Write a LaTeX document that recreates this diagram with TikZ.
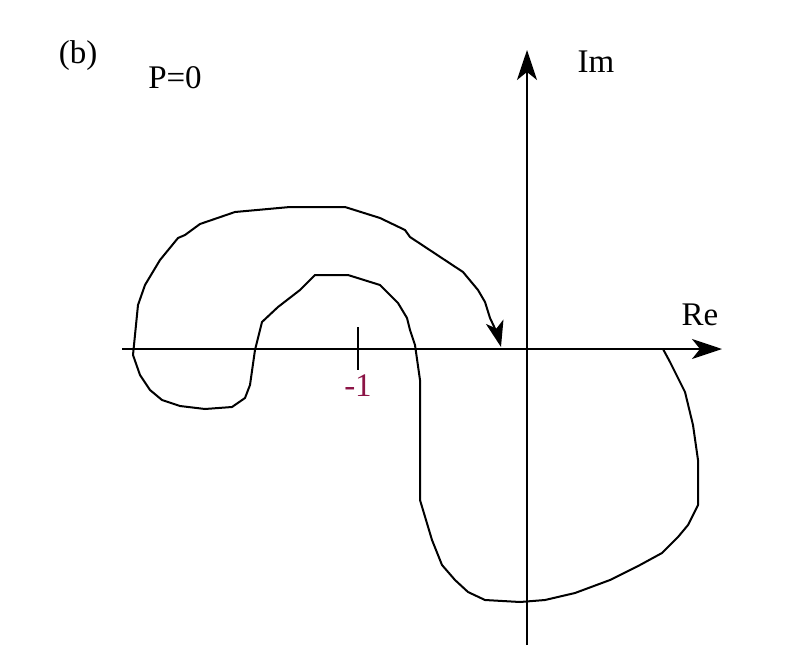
\documentclass[tikz,border=0pt]{standalone}
\usepackage{fontspec}
\setmainfont{Liberation Serif}
\usetikzlibrary{arrows.meta}
\definecolor{tickred}{RGB}{140,20,70}
\tikzset{axis/.style={line width=2pt,-{Stealth[length=30pt,width=20pt,inset=8pt]}},
curve/.style={line width=2pt,line join=round},
lbl/.style={font=\fontsize{33}{36}\selectfont,inner sep=0pt}}
\begin{document}
\begin{tikzpicture}[x=1pt,y=-1pt]
\useasboundingbox (0,0) rectangle (798,656);
\coordinate (xs) at (122,349); \coordinate (xe) at (722,349);
\coordinate (ys) at (527,645); \coordinate (ye) at (527,50);
\draw[axis] (xs) -- (xe);
\draw[axis] (ys) -- (ye);
\coordinate (t1) at (358,327); \coordinate (t2) at (358,370);
\draw[line width=2pt] (t1) -- (t2);
\node[lbl,text=tickred] (m1) at (358,386) {-1};
\node[lbl] (im) at (596,62) {Im};
\node[lbl] (re) at (700,315) {Re};
\node[lbl] (b) at (78,56) {(b)};
\node[lbl] (p) at (175,78) {P=0};
\draw[curve,-{Stealth[length=26pt,width=18pt,inset=7pt]}] (663,349)--(670,362)--(685,392)--(693,425)--(698,460)--(698,505)--(688,525)--(678,537)--(662,553)--(640,565)--(610,580)--(575,593)--(545,600)--(520,602)--(485,600)--(468,592)--(455,580)--(442,565)--(432,540)--(420,500)--(420,440)--(420,380)--(415,345)--(410,330)--(407,318)--(398,303)--(380,285)--(348,275)--(315,275)--(300,290)--(278,307)--(262,322)--(255,350)--(250,385)--(245,398)--(232,407)--(205,409)--(180,406)--(162,400)--(150,390)--(140,375)--(133,355)--(138,305)--(145,285)--(160,260)--(178,238)--(185,235)--(200,224)--(235,212)--(290,207)--(345,207)--(380,218)--(405,230)--(410,237)--(463,272)--(478,290)--(485,302)--(490,318)--(498,335)--(501,347);
\end{tikzpicture}
\end{document}
